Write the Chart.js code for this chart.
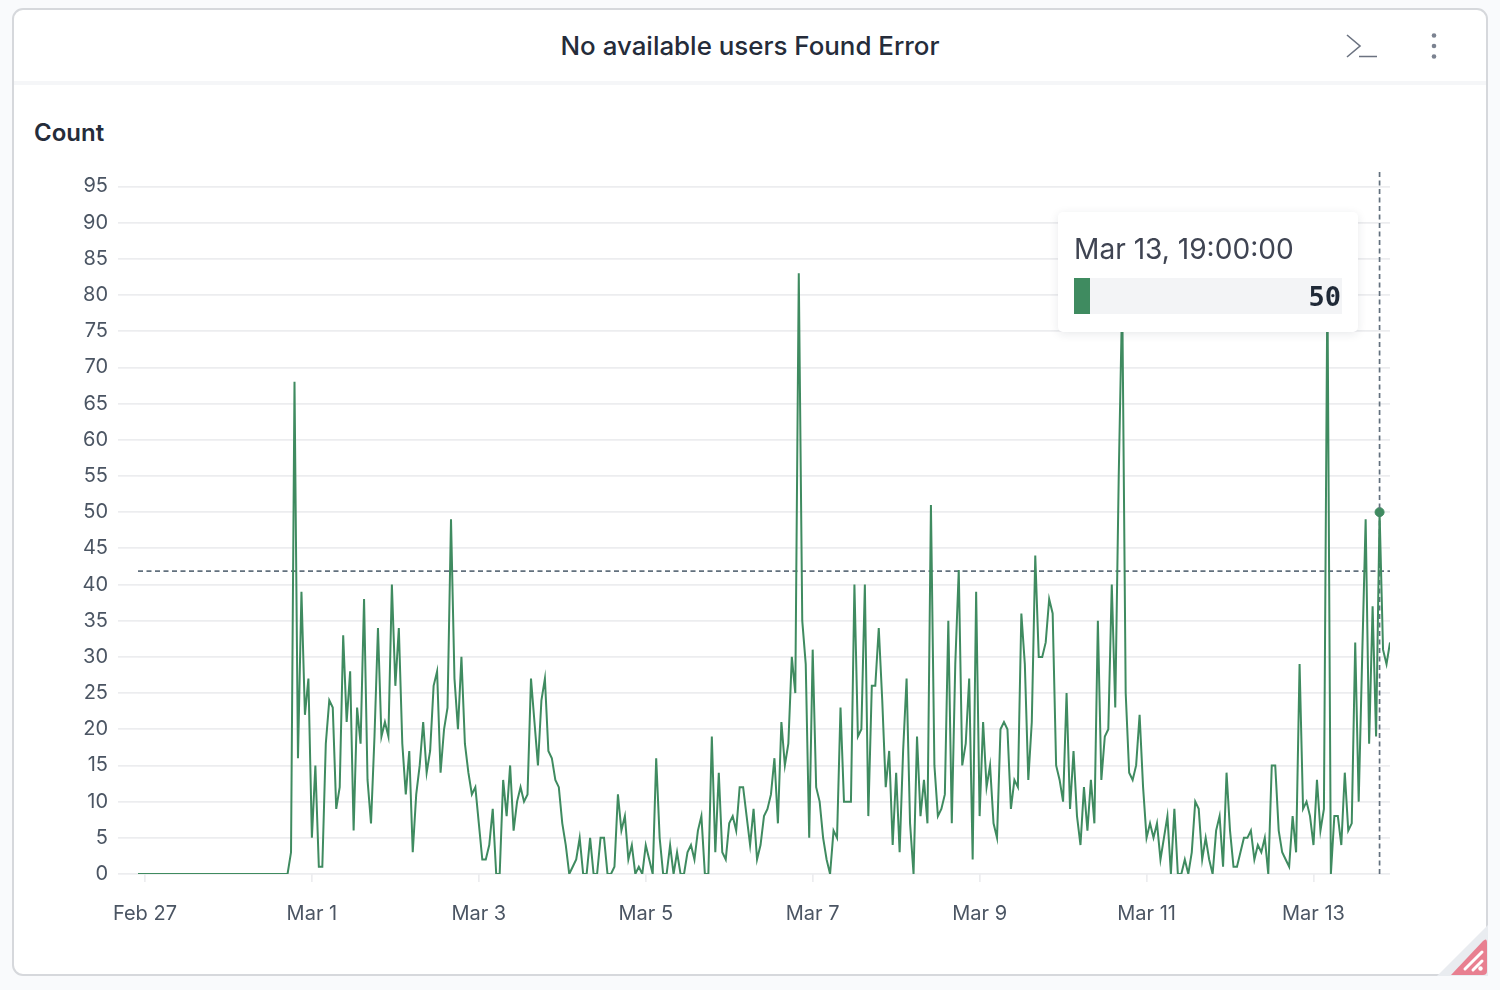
<!DOCTYPE html>
<html>
<head>
<meta charset="utf-8">
<title>No available users Found Error</title>
<script src="https://cdn.jsdelivr.net/npm/chart.js@4"></script>
<style>
  html, body { margin: 0; padding: 0; width: 1500px; height: 990px; overflow: hidden; background: #f9fafc; font-family: Inter, sans-serif; }
  #card { position: absolute; left: 12px; top: 8px; width: 1472px; height: 964px; background: #fff; border: 2px solid #d6d8dc; border-radius: 11px; }
  #divider { position: absolute; left: 14px; top: 81px; width: 1472px; height: 4px; background: #f5f6f8; }
  #title { position: absolute; left: 0; width: 1500px; top: 29px; text-align: center; font-size: 25.9px; line-height: 34px; font-weight: 500; color: #252c3a; }
  #axisName { position: absolute; left: 34px; top: 118px; font-size: 24px; line-height: 30px; font-weight: 600; color: #252c3a; }
  #chartBox { position: absolute; left: 0; top: 0; width: 1500px; height: 990px; }
  #tip { position: absolute; left: 1058px; top: 212px; width: 300px; height: 120px; background: #fff; border-radius: 5px; box-shadow: 0 2px 10px rgba(31, 41, 55, 0.10); }
  #tipTime { position: absolute; left: 16px; top: 18.5px; font-size: 28.1px; line-height: 36px; color: #3f4452; white-space: nowrap; }
  #tipTrack { position: absolute; left: 16px; top: 66px; width: 268px; height: 36px; background: #f3f4f6; }
  #tipBar { position: absolute; left: 0; top: 0; width: 16px; height: 36px; background: #3f8b60; }
  #tipValue { position: absolute; right: 1px; top: 1px; font-family: "DejaVu Sans Mono", monospace; font-size: 27px; line-height: 36px; font-weight: 700; color: #1f2937; }
  svg.deco { position: absolute; left: 0; top: 0; }
</style>
</head>
<body>
<div id="card"></div>
<div id="divider"></div>
<div id="title">No available users Found Error</div>
<div id="axisName">Count</div>
<div id="chartBox"><canvas id="errorChart" width="1500" height="990"></canvas></div>
<div id="tip">
  <div id="tipTime"></div>
  <div id="tipTrack"><div id="tipBar"></div><div id="tipValue"></div></div>
</div>
<svg class="deco" width="1500" height="990">
  <path d="M1347 35 L1360 46 L1347 57 M1359 56.5 L1377 56.5" fill="none" stroke="#6b7280" stroke-width="1.6"/>
  <circle cx="1434" cy="35.5" r="2.3" fill="#7b8290"/>
  <circle cx="1434" cy="46" r="2.3" fill="#7b8290"/>
  <circle cx="1434" cy="56.5" r="2.3" fill="#7b8290"/>
  <path d="M1437 976 L1488 925 L1488 976 Z" fill="#e9ecf0"/>
  <path d="M1451 975 L1483 941 Q1487 937 1487 943 L1487 971 Q1487 975 1483 975 Z" fill="#e87f90"/>
  <path d="M1465 969 L1482 952 M1473 970 L1482 961" stroke="#fff" stroke-width="3" stroke-linecap="round"/>
  <circle cx="1480.5" cy="968.5" r="2.2" fill="#fff"/>
</svg>
<script>
// Hourly counts, first point is Feb 26 22:00, last is Mar 13 22:00
const idleHours = [0,0,0,0,0,0,0,0,0,0,0,0,0,0,0,0,0,0,0,0,0,0,0,0,0,0,0,0,0,0,0,0,0,0,0,0,0,0,0,0,0,0,0,0];
const countsFeb28 = [3,68,16,39,22,27,5,15,1,1,18,24,23,9,12,33,21,28,6,23,18,38,13,7,19,34,19,21,19,40,26,34,18,11,17,3,11,15,21,14];
const countsMar2 = [17,26,28,14,20,23,49,27,20,30,18,14,11,12,7,2,2,4,9,0,0,13,8,15,6,10,12,10,11,27,21,15,24,27,17,16,13,12,7,4,
  0,1,2,5,0,0,5,0,0,5,5,0,0,1,11,6,8,2,4,0,1,0,4,2,0,16,5,0,0,4,0,3,0,0,3,4,2,6,8,0,0,19,3,14];
const countsMar5 = [3,2,7,8,6,12,12,8,4,9,2,4,8,9,11,16,7,21,15,18,30,25,83,35,29,5,31,12,10,5,2,0,6,5,23,10,10,10,40,19,
  20,40,8,26,26,34,24,12,17,4,14,3,17,27,7,0,19,8,13,7,51,15,8,9,11,35,7,29,42,15,18,27,2,39,8,21,12,15,7,5,20];
const countsMar9 = [21,20,9,13,12,36,29,13,21,44,30,30,32,38,36,15,13,10,25,9,17,8,4,12,6,13,7,35,13,19,20,40,23,55,80,25,14,13,15,22,
  12,5,7,5,7,2,5,8,0,9,0,0,2,0,3,10];
const countsMar11 = [9,2,5,2,0,6,8,1,14,6,1,1,3,5,5,6,2,4,3,5,0,15,15,6,3,2,1,8,3,29,9,10,8,4,13,6,9,82,0,8,
  8,4,14,6,7,32,10,30,49,18,37,19,50,31,29,32];
const hourlyCounts = [...idleHours, ...countsFeb28, ...countsMar2, ...countsMar5, ...countsMar9, ...countsMar11];

const dateTickHours = [2, 50, 98, 146, 194, 242, 290, 338];
const dateTickLabels = ['Feb 27', 'Mar 1', 'Mar 3', 'Mar 5', 'Mar 7', 'Mar 9', 'Mar 11', 'Mar 13'];
const averageCount = 41.85;
const hoverHour = 357;
const hoverLabel = 'Mar 13, 19:00:00';
const yTop = 97;

const lineGreen = '#3f8b60';
const dashGrey = '#62707d';
const gridGrey = '#ecedef';

document.getElementById('tipTime').textContent = hoverLabel;
document.getElementById('tipValue').textContent = hourlyCounts[hoverHour];

const errorChart = new Chart(document.getElementById('errorChart').getContext('2d'), {
    type: 'line',
    data: {
        datasets: [
            {
                data: hourlyCounts.map((count, hour) => ({ x: hour, y: count })),
                borderColor: lineGreen,
                borderWidth: 2,
                pointRadius: 0,
                tension: 0
            },
            {
                // average line
                data: [{ x: 0, y: averageCount }, { x: hourlyCounts.length - 1, y: averageCount }],
                borderColor: dashGrey,
                borderWidth: 1.7,
                borderDash: [5, 3.5],
                pointRadius: 0
            },
            {
                // crosshair at the hovered hour, drawn top down
                data: [{ x: hoverHour, y: yTop }, { x: hoverHour, y: 0 }],
                borderColor: dashGrey,
                borderWidth: 1.7,
                borderDash: [5, 3.5],
                pointRadius: 0
            },
            {
                // hovered point
                data: [{ x: hoverHour, y: hourlyCounts[hoverHour] }],
                borderColor: lineGreen,
                backgroundColor: lineGreen,
                pointRadius: 4.5,
                showLine: false
            }
        ]
    },
    options: {
        responsive: false,
        animation: false,
        events: [],
        layout: { padding: { left: 30, right: 110, top: 172, bottom: 70 } },
        plugins: {
            legend: { display: false },
            tooltip: { enabled: false }
        },
        scales: {
            x: {
                type: 'linear',
                min: 0,
                max: hourlyCounts.length - 1,
                afterBuildTicks: scale => { scale.ticks = dateTickHours.map(hour => ({ value: hour })); },
                afterFit: scale => { scale.height = 46; },
                border: { display: false },
                grid: { drawOnChartArea: false, drawTicks: true, tickLength: 8, tickColor: gridGrey, lineWidth: 1.7 },
                ticks: {
                    autoSkip: false,
                    maxRotation: 0,
                    padding: 20,
                    color: '#4b5563',
                    font: { family: 'Inter', size: 20 },
                    callback: value => dateTickLabels[dateTickHours.indexOf(value)]
                }
            },
            y: {
                min: 0,
                max: yTop,
                afterFit: scale => { scale.width = 108; },
                border: { display: false },
                grid: { color: gridGrey, tickColor: gridGrey, tickLength: 20, lineWidth: 1.7 },
                ticks: {
                    stepSize: 5,
                    includeBounds: false,
                    padding: 10,
                    color: '#4b5563',
                    font: { family: 'Inter', size: 20 }
                }
            }
        }
    }
});
</script>
</body>
</html>
